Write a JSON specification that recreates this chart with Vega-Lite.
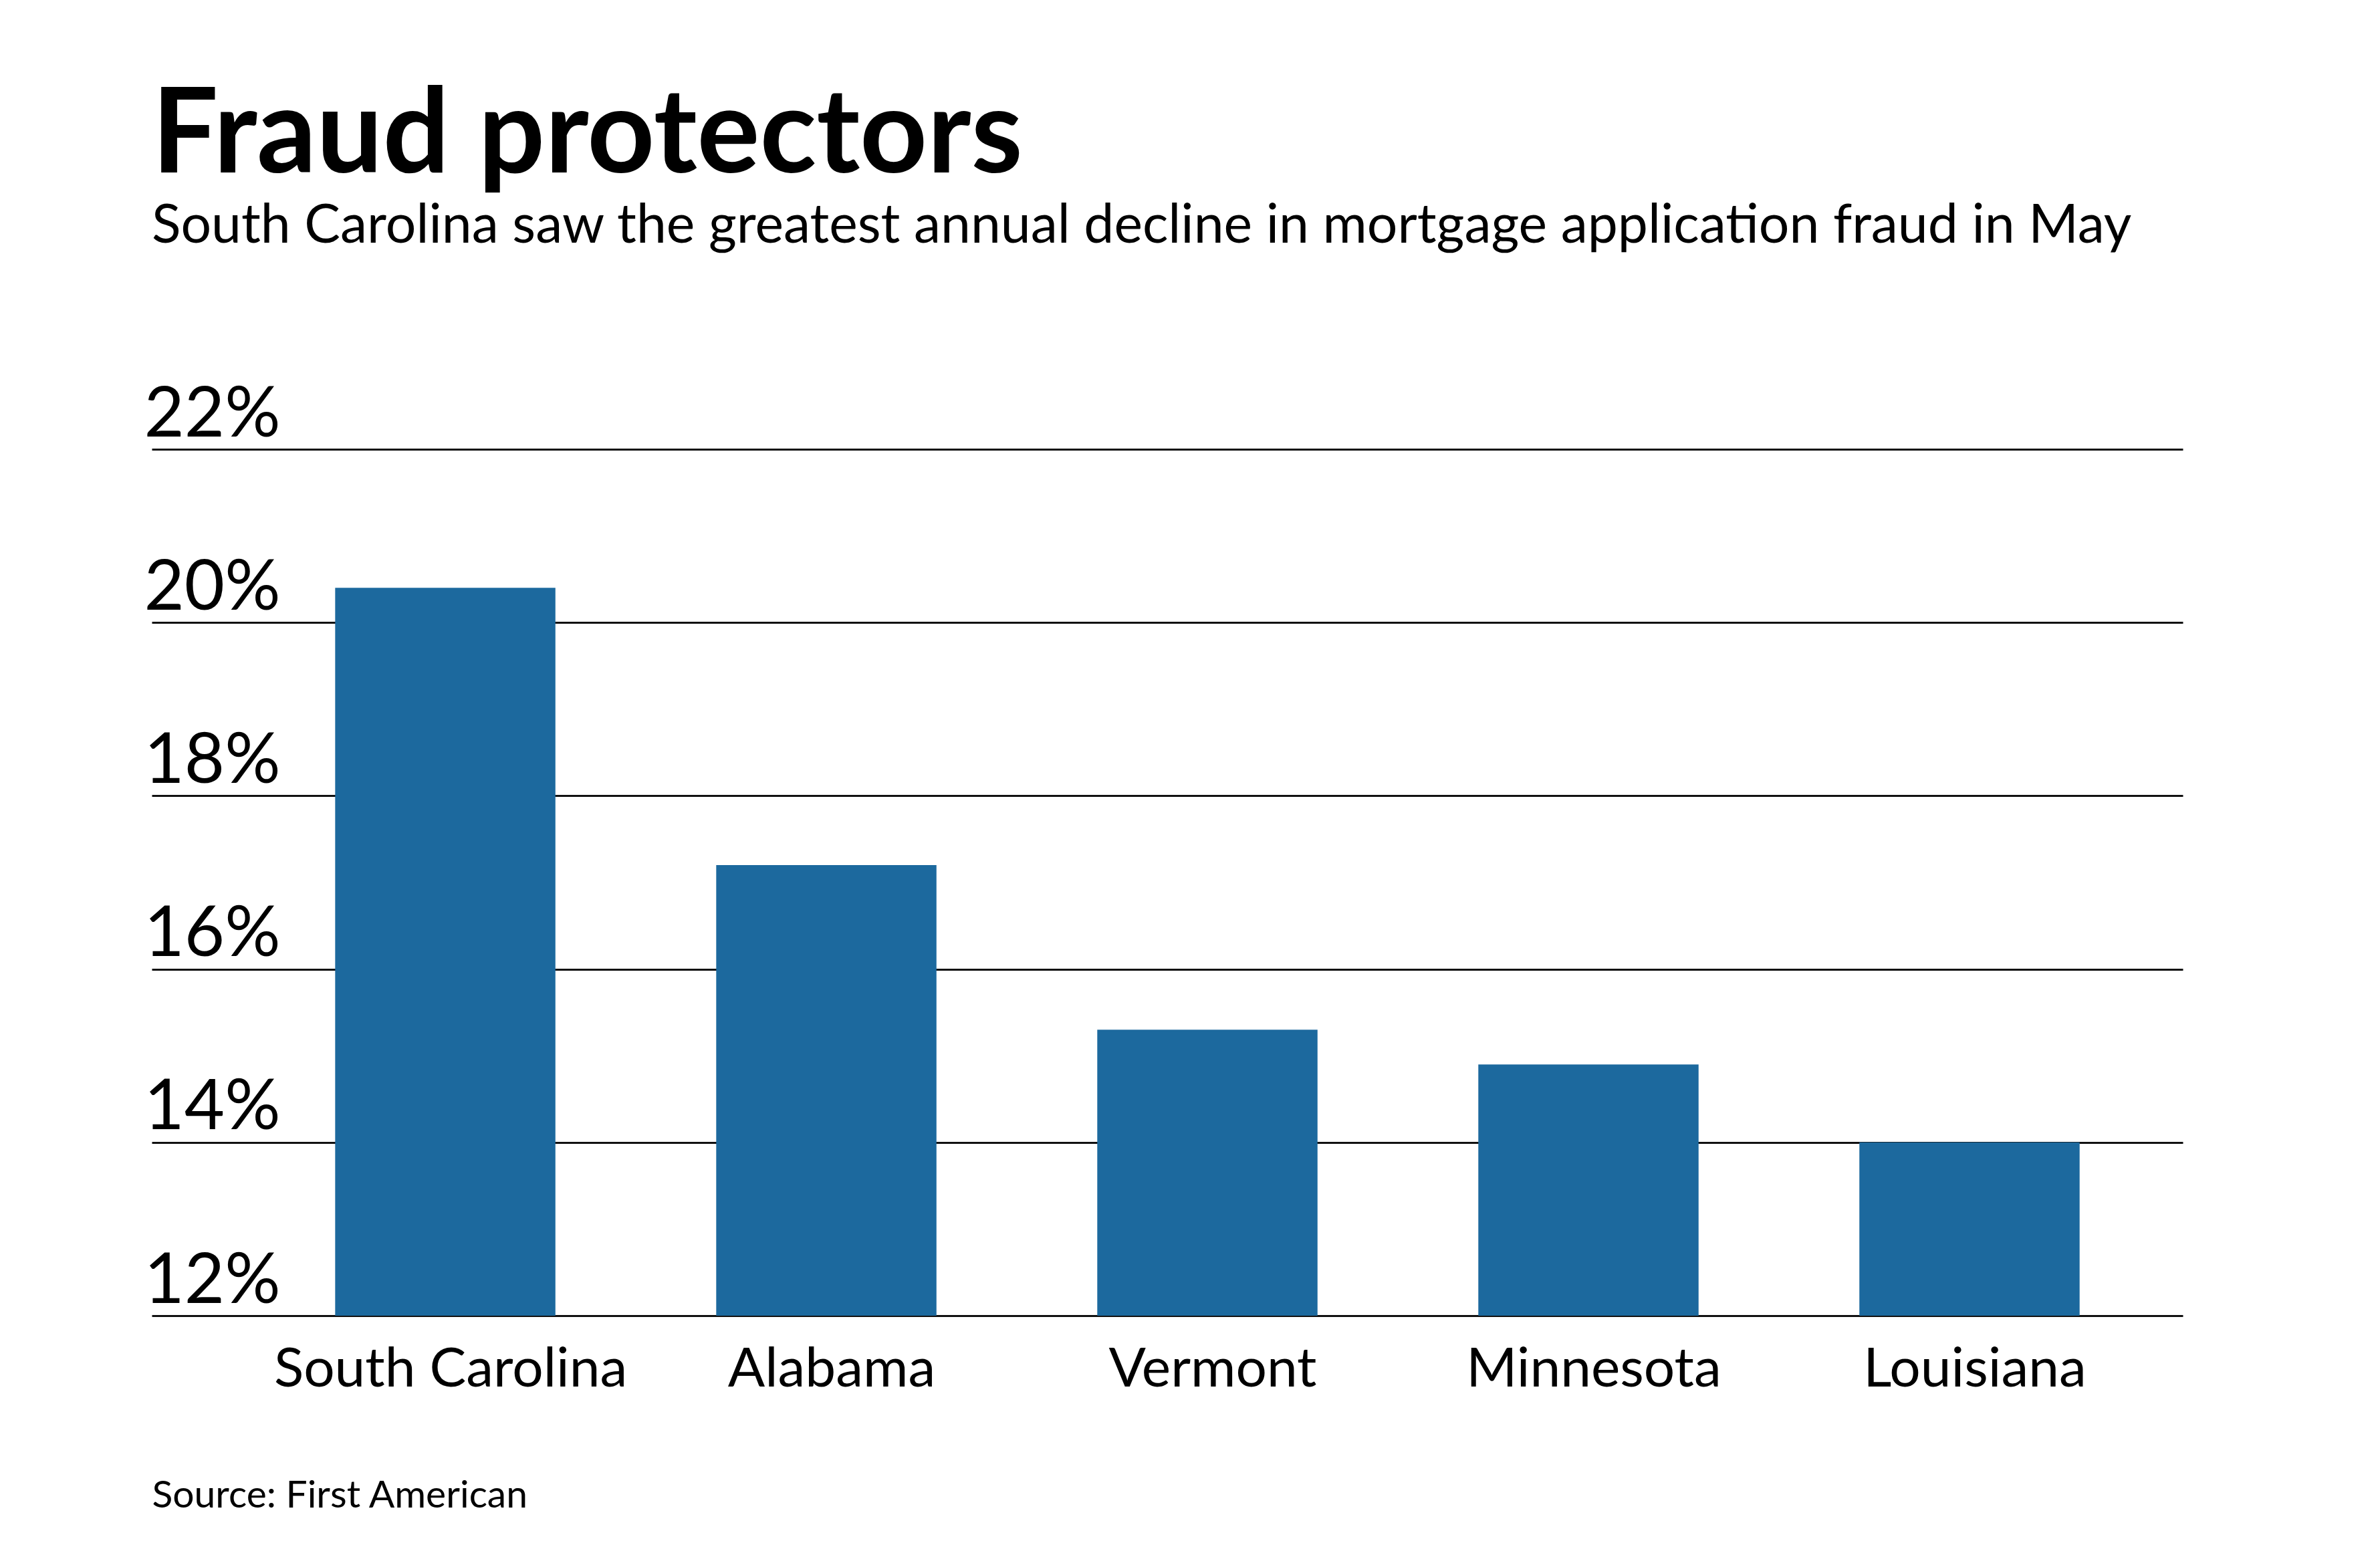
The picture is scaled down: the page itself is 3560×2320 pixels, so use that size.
{
  "$schema": "https://vega.github.io/schema/vega-lite/v6.json",
  "width": 3038,
  "height": 1296,
  "autosize": {"type": "none"},
  "padding": {"left": 227, "top": 672, "right": 295, "bottom": 352},
  "background": "white",
  "config": {
    "font": "Lato",
    "view": {"stroke": null}
  },
  "title": {
    "text": "Fraud protectors",
    "subtitle": "South Carolina saw the greatest annual decline in mortgage application fraud in May",
    "anchor": "start",
    "frame": "group",
    "font": "Lato",
    "fontSize": 176,
    "fontWeight": "bold",
    "color": "#000",
    "subtitleFont": "Lato",
    "subtitleFontSize": 80.5,
    "subtitleColor": "#000",
    "subtitlePadding": 4,
    "offset": 188
  },
  "data": {
    "values": [
      {"state": "South Carolina", "decline": 20.4},
      {"state": "Alabama", "decline": 17.2},
      {"state": "Vermont", "decline": 15.3},
      {"state": "Minnesota", "decline": 14.9},
      {"state": "Louisiana", "decline": 14.0}
    ]
  },
  "mark": {"type": "bar", "color": "#1c699e"},
  "encoding": {
    "x": {
      "field": "state",
      "type": "nominal",
      "sort": null,
      "scale": {"paddingInner": 0.422, "paddingOuter": 0.376, "align": 0.64},
      "axis": {
        "title": "Source: First American",
        "titleFont": "Lato",
        "titleFontSize": 57,
        "titleFontWeight": "normal",
        "titleColor": "#000",
        "titleAnchor": "start",
        "titleAlign": "left",
        "titleBaseline": "alphabetic",
        "titleX": 0,
        "titleY": 286,
        "labelAngle": 0,
        "labelFont": "Lato",
        "labelFontSize": 82,
        "labelColor": "#000",
        "labelBaseline": "alphabetic",
        "labelPadding": 105,
        "labelOffset": 8,
        "labelLimit": 2000,
        "ticks": false,
        "domain": false,
        "grid": false
      }
    },
    "y": {
      "field": "decline",
      "type": "quantitative",
      "scale": {"domain": [12, 22], "zero": false, "nice": false},
      "axis": {
        "title": null,
        "values": [12, 14, 16, 18, 20, 22],
        "labelExpr": "datum.value + '%'",
        "labelFont": "Lato",
        "labelFontSize": 104,
        "labelColor": "#000",
        "labelAlign": "left",
        "labelBaseline": "alphabetic",
        "labelPadding": 12,
        "labelOffset": -20,
        "labelLimit": 2000,
        "ticks": false,
        "domain": false,
        "grid": true,
        "gridColor": "#111",
        "gridWidth": 3,
        "gridOpacity": 1
      }
    },
    "y2": {"datum": 12}
  }
}
